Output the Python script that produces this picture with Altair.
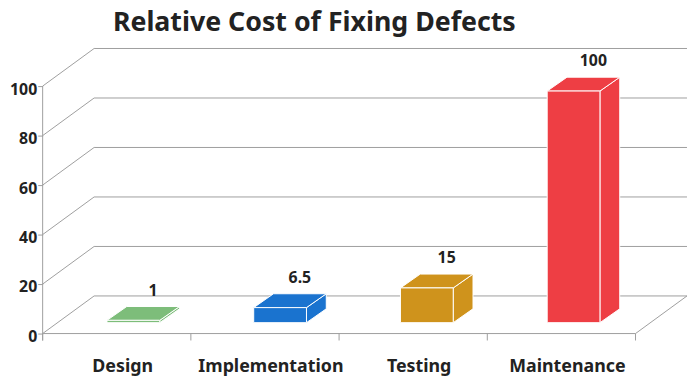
import altair as alt
import pandas as pd

# ---------------- data ----------------
categories = ["Design", "Implementation", "Testing", "Maintenance"]
values = [1, 6.5, 15, 100]
colors = ["#7dbd7a", "#1a73cf", "#cf931c", "#ee3e44"]
y_ticks = [0, 20, 40, 60, 80, 100]

# ---------------- geometry / style constants ----------------
PX_X = 149.75            # pixels per category unit
PX_Y = 2.5               # pixels per value unit
W, H = 651, 339
X_MAX = W / PX_X
Y_MAX = 118
Y_MIN = Y_MAX - H / PX_Y
WALL_DX = 52 / PX_X      # depth of the 3D frame
WALL_DY = 38 / PX_Y
BAR_BASE = 11 / PX_Y     # bars stand slightly back in depth
BAR_SCALE = 0.936        # perspective shrink of bar heights
BAR_W = 53.3 / PX_X
BAR_DDX = 20 / PX_X      # bar depth
BAR_DDY = 14 / PX_Y
TICK_LEN = 7 / PX_Y
FONT = "Noto Sans"
INK = "#222222"
GRID = "#9e9e9e"

xs = alt.Scale(domain=[0, X_MAX], nice=False, zero=False)
ys = alt.Scale(domain=[Y_MIN, Y_MAX], nice=False, zero=False)

# ---------------- frame: grid lines, floor, axis line, ticks ----------------
grid_rows = []
for v in y_ticks:
    grid_rows += [
        {"g": f"g{v}", "o": 0, "x": 0.0, "y": v},
        {"g": f"g{v}", "o": 1, "x": WALL_DX, "y": v + WALL_DY},
        {"g": f"g{v}", "o": 2, "x": X_MAX, "y": v + WALL_DY},
    ]
n_cat = len(categories)
grid_rows += [
    {"g": "floor", "o": 0, "x": 0.0, "y": 0},
    {"g": "floor", "o": 1, "x": float(n_cat), "y": 0},
    {"g": "floor", "o": 2, "x": n_cat + WALL_DX, "y": WALL_DY},
]
grid_df = pd.DataFrame(grid_rows)

grid = alt.Chart(grid_df).mark_line(color=GRID, strokeWidth=1).encode(
    x=alt.X("x:Q", scale=xs, axis=None),
    y=alt.Y("y:Q", scale=ys, title=None,
            axis=alt.Axis(values=y_ticks, domain=False, grid=False,
                          tickSize=5, tickColor=GRID, labelPadding=1,
                          labelFont=FONT, labelFontSize=16, labelFontWeight="bold",
                          labelColor=INK, labelOffset=3)),
    detail="g:N",
    order="o:Q",
)

axis_df = pd.DataFrame({"x": [0.0], "y": [-TICK_LEN], "y2": [max(y_ticks)]})
axis_line = alt.Chart(axis_df).mark_rule(color=GRID, strokeWidth=1).encode(
    x=alt.X("x:Q", scale=xs, axis=None),
    y=alt.Y("y:Q", scale=ys, axis=None),
    y2="y2:Q",
)

tick_df = pd.DataFrame({"x": [float(i) for i in range(n_cat + 1)],
                        "y": [-TICK_LEN] * (n_cat + 1), "y2": [0.0] * (n_cat + 1)})
x_ticks = alt.Chart(tick_df).mark_rule(color=GRID, strokeWidth=1).encode(
    x=alt.X("x:Q", scale=xs, axis=None),
    y=alt.Y("y:Q", scale=ys, axis=None),
    y2="y2:Q",
)

xlab_df = pd.DataFrame({"cat": categories,
                        "x": [i + 0.5 + 6 / PX_X for i in range(n_cat)],
                        "y": [-39 / PX_Y] * n_cat})
x_labels = alt.Chart(xlab_df).mark_text(
    font=FONT, fontSize=18, fontWeight="bold", color=INK,
    align="center", baseline="alphabetic",
).encode(
    x=alt.X("x:Q", scale=xs, axis=None),
    y=alt.Y("y:Q", scale=ys, axis=None),
    text="cat:N",
)

# ---------------- 3D bars ----------------
front_rows, side_rows, top_rows, lab_rows = [], [], [], []
for i, (c, v) in enumerate(zip(categories, values)):
    x0 = i + (65 - 1.5 * i) / PX_X
    x1 = x0 + BAR_W
    yb = BAR_BASE
    yt = BAR_BASE + v * BAR_SCALE
    front_rows.append({"cat": c, "x0": x0, "x1": x1, "yb": yb, "yt": yt})
    side_rows += [
        {"cat": c, "x": x1, "yb": yb, "yt": yt},
        {"cat": c, "x": x1 + BAR_DDX, "yb": yb + BAR_DDY, "yt": yt + BAR_DDY},
    ]
    top_rows += [
        {"cat": c, "y": yt, "xl": x0, "xr": x1},
        {"cat": c, "y": yt + BAR_DDY, "xl": x0 + BAR_DDX, "xr": x1 + BAR_DDX},
    ]
    lab_rows.append({"cat": c, "label": f"{v:g}",
                     "x": (x0 + x1) / 2 + 20 / PX_X, "y": yt + 30 / PX_Y})

color = alt.Color("cat:N", scale=alt.Scale(domain=categories, range=colors), legend=None)

side = alt.Chart(pd.DataFrame(side_rows)).mark_area(
    stroke="white", strokeWidth=1, interpolate="linear"
).encode(
    x=alt.X("x:Q", scale=xs, axis=None),
    y=alt.Y("yt:Q", scale=ys, axis=None),
    y2="yb:Q",
    color=color,
    detail="cat:N",
)

top = alt.Chart(pd.DataFrame(top_rows)).mark_area(
    stroke="white", strokeWidth=1, interpolate="linear", orient="horizontal"
).encode(
    y=alt.Y("y:Q", scale=ys, axis=None),
    x=alt.X("xl:Q", scale=xs, axis=None),
    x2="xr:Q",
    color=color,
    detail="cat:N",
)

front = alt.Chart(pd.DataFrame(front_rows)).mark_rect(
    stroke="white", strokeWidth=1
).encode(
    x=alt.X("x0:Q", scale=xs, axis=None),
    x2="x1:Q",
    y=alt.Y("yb:Q", scale=ys, axis=None),
    y2="yt:Q",
    color=color,
)

value_labels = alt.Chart(pd.DataFrame(lab_rows)).mark_text(
    font=FONT, fontSize=16, fontWeight="bold", color=INK,
    align="center", baseline="middle",
).encode(
    x=alt.X("x:Q", scale=xs, axis=None),
    y=alt.Y("y:Q", scale=ys, axis=None),
    text="label:N",
)

chart = alt.layer(
    grid, axis_line, x_ticks, x_labels, side, top, front, value_labels
).resolve_axis(
    x="independent", y="independent"
).properties(
    width=W,
    height=H,
    autosize=alt.AutoSizeParams(type="none"),
    padding={"left": 35, "top": 32, "right": 0, "bottom": 0},
    title=alt.TitleParams(
        "Relative Cost of Fixing Defects",
        font=FONT, fontSize=27, fontWeight="bold", color=INK,
        anchor="middle", dx=-51, offset=5,
    ),
).configure_view(stroke=None)

chart.save("out.html", embed_options={"renderer": "svg", "actions": False})
